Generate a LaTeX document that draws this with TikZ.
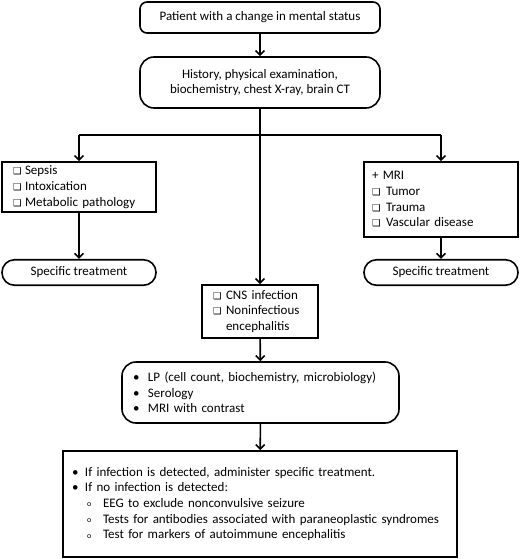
\documentclass[tikz,border=0pt]{standalone}
\usepackage{fontspec}
\setmainfont{Carlito}
\newfontfamily\dejavu{DejaVu Sans}
\usetikzlibrary{arrows.meta}
\newcommand\chkbx[1][12pt]{\makebox[#1][l]{\dejavu\fontsize{9.5}{9.5}\selectfont ❑}}
\newcommand\bul[1][13pt]{\makebox[#1][l]{•}}
\newcommand\subbul{\makebox[16pt][l]{\raisebox{0.5pt}{\fontsize{8}{8}\selectfont o}}}
\begin{document}
\begin{tikzpicture}[x=1pt,y=-1pt,
  every node/.style={font=\fontsize{13}{15.7}\selectfont, line width=1.6pt, draw, inner sep=0pt},
  rbox/.style={rounded corners=#1},
  arr/.style={line width=1.6pt,-{Straight Barb[length=4.5pt,width=9pt,line width=1.6pt]}},
  ln/.style={line width=1.6pt}]
\useasboundingbox (0,0) rectangle (520,559);
\node[rbox=7pt, minimum width=240pt, minimum height=31pt, align=center] (top) at (260,17.5) {Patient with a change in mental status};
\node[rbox=14pt, minimum width=240pt, minimum height=51pt, align=center] (hist) at (260,82.5) {History, physical examination,\\biochemistry, chest X-ray, brain CT};
\node[minimum height=50pt, text width=154pt, align=left] (lb) at (79,187) {\hspace*{11pt}\chkbx Sepsis\\\hspace*{11pt}\chkbx Intoxication\\\hspace*{11pt}\chkbx Metabolic pathology};
\node[rbox=12.5pt, minimum width=154pt, minimum height=25.5pt] (lst) at (79,272.5) {Specific treatment};
\node[minimum height=75pt, text width=154pt, align=left] (rb) at (441,199.5) {\hspace*{8pt}+ MRI\\\hspace*{8pt}\chkbx[14pt]Tumor\\\hspace*{8pt}\chkbx[14pt]Trauma\\\hspace*{8pt}\chkbx[14pt]Vascular disease};
\node[rbox=12.5pt, minimum width=154pt, minimum height=25.5pt] (rst) at (441,272.5) {Specific treatment};
\node[minimum height=53pt, text width=116pt, align=left] (cns) at (260,311.5) {\hspace*{11pt}\chkbx[13pt]CNS infection\\\hspace*{11pt}\chkbx[13pt]Noninfectious\\\hspace*{24pt}encephalitis};
\node[rbox=14pt, minimum height=61pt, text width=277pt, align=left] (lp) at (260.5,392.5) {\hspace*{11pt}\bul[15pt]LP (cell count, biochemistry, microbiology)\\\hspace*{11pt}\bul[15pt]Serology\\\hspace*{11pt}\bul[15pt]MRI with contrast};
\node[minimum height=106pt, text width=394pt, align=left] (fin) at (260,504) {\hspace*{9pt}\bul If infection is detected, administer specific treatment.\\\hspace*{9pt}\bul If no infection is detected:\\\hspace*{24pt}\subbul EEG to exclude nonconvulsive seizure\\\hspace*{24pt}\subbul Tests for antibodies associated with paraneoplastic syndromes\\\hspace*{24pt}\subbul Test for markers of autoimmune encephalitis};
\coordinate (hy) at (0,135);
\draw[arr] (top) -- (hist);
\draw[arr] (hist) -- (cns);
\draw[ln] (lb.north |- hy) -- (rb.north |- hy);
\draw[arr] (lb.north |- hy) -- (lb.north);
\draw[arr] (rb.north |- hy) -- (rb.north);
\draw[arr] (lb) -- (lst);
\draw[arr] (rb) -- (rst);
\draw[arr] (cns) -- (lp);
\draw[arr] (lp) -- (fin);
\end{tikzpicture}
\end{document}
